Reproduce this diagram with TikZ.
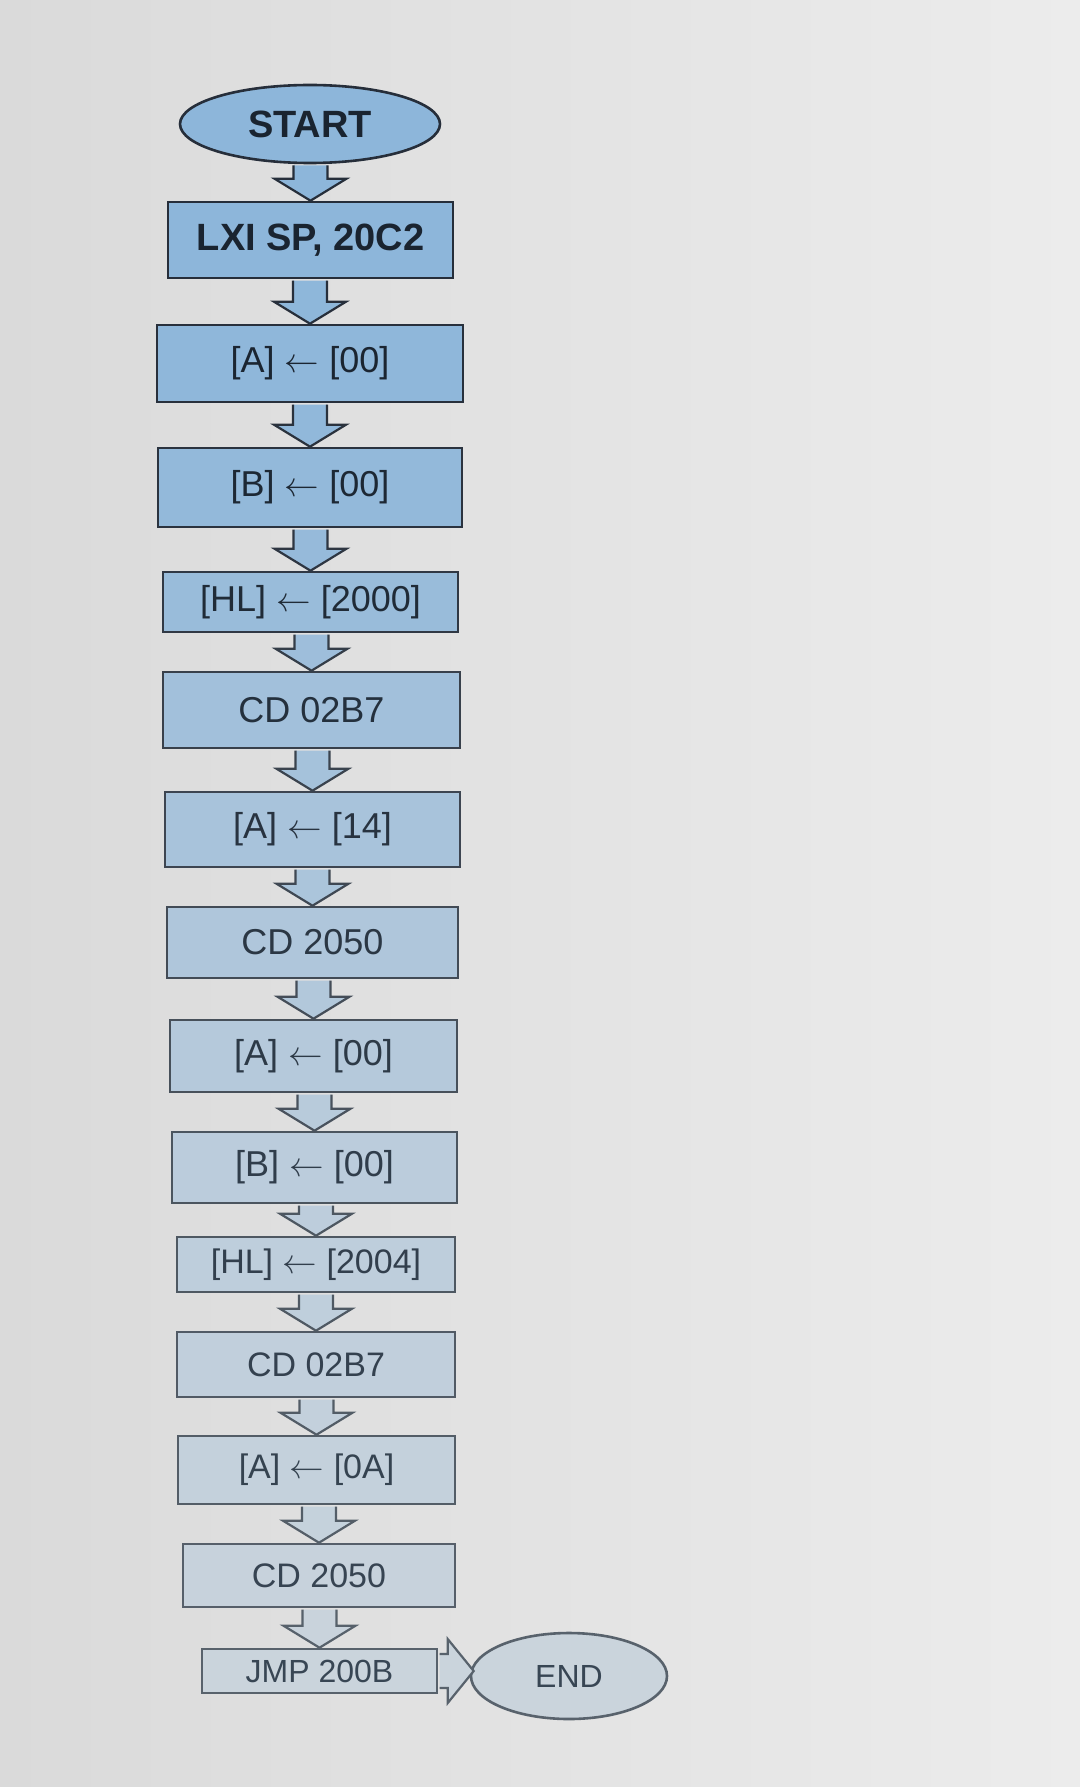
\documentclass[tikz,border=0pt]{standalone}
\usepackage{fontspec}
\setmainfont{Liberation Sans}
\usepackage{tikz}
\usetikzlibrary{shapes.geometric, calc}

\definecolor{boxA}{RGB}{141,182,218}
\definecolor{boxZ}{RGB}{202,212,220}
\definecolor{lineA}{RGB}{38,46,58}
\definecolor{lineZ}{RGB}{88,98,108}
\definecolor{txtA}{RGB}{26,36,48}
\definecolor{txtZ}{RGB}{56,70,84}
\definecolor{bgL}{RGB}{218,218,218}
\definecolor{bgR}{RGB}{236,236,236}

\tikzset{
	stepbox/.style={rectangle, line width=1.3pt, inner sep=0pt, font=\fontsize{18}{21}\selectfont},
	term/.style={ellipse, line width=1.3pt, inner sep=0pt},
	flowarrow/.style={line width=1.1pt, line join=miter},
	tone/.style={fill=boxZ!#1!boxA, draw=lineZ!#1!lineA, text=txtZ!#1!txtA},
}

% block arrow from the bottom of #1 to the top of #2
\newcommand{\flowarrow}[3]{%
	\filldraw[flowarrow, tone=#3] let \p1=(#1.south), \p2=(#2.north) in
		(\x2-8.5pt,\y1-0.6pt) -- (\x2-8.5pt,\y2+11pt) -- (\x2-18pt,\y2+11pt) -- (\x2,\y2)
		-- (\x2+18pt,\y2+11pt) -- (\x2+8.5pt,\y2+11pt) -- (\x2+8.5pt,\y1-0.6pt);
}
% block arrow from the right side of #1 to the left of #2
\newcommand{\sidearrow}[3]{%
	\filldraw[flowarrow, tone=#3] let \p1=(#1.east), \p2=(#2.west) in
		(\x1+0.6pt,\y1+8.5pt) -- (\x2-11pt,\y1+8.5pt) -- (\x2-11pt,\y1+16pt) -- (\x2+2pt,\y1)
		-- (\x2-11pt,\y1-16pt) -- (\x2-11pt,\y1-8.5pt) -- (\x1+0.6pt,\y1-8.5pt);
}
\newcommand{\loadarrow}{\ensuremath{\leftarrow}}

\begin{document}
\begin{tikzpicture}[x=0.5pt, y=-0.5pt]
	\shade[left color=bgL, right color=bgR] (0,0) rectangle (1080,1787);
	%
	\node[term, tone=0, font=\bfseries\fontsize{19}{22}\selectfont, minimum width=130pt, minimum height=39pt] (start) at (310,124) {START};
	\node[stepbox, tone=0, font=\bfseries\fontsize{19}{22}\selectfont, minimum width=142.5pt, minimum height=38pt] (lxi) at (310.5,240) {LXI SP, 20C2};
	\node[stepbox, tone=4, minimum width=153pt, minimum height=38.5pt] (a1) at (310,363.5) {[A] \loadarrow{} [00]};
	\node[stepbox, tone=10, minimum width=152pt, minimum height=39.5pt] (b1) at (310,487.5) {[B] \loadarrow{} [00]};
	\node[stepbox, tone=20, minimum width=147.5pt, minimum height=30pt] (hl1) at (310.5,602) {[HL] \loadarrow{} [2000]};
	\node[stepbox, tone=35, minimum width=148.5pt, minimum height=38pt] (cd1) at (311.5,710) {CD 02B7};
	\node[stepbox, tone=45, minimum width=147.5pt, minimum height=37.5pt] (a2) at (312.5,829.5) {[A] \loadarrow{} [14]};
	\node[stepbox, tone=55, minimum width=145.5pt, minimum height=35.5pt] (cd2) at (312.5,942.5) {CD 2050};
	\node[stepbox, tone=65, minimum width=143.5pt, minimum height=36pt] (a3) at (313.5,1056) {[A] \loadarrow{} [00]};
	\node[stepbox, tone=75, minimum width=142.5pt, minimum height=35.5pt] (b2) at (314.5,1167.5) {[B] \loadarrow{} [00]};
	\node[stepbox, tone=80, font=\fontsize{17}{20}\selectfont, minimum width=139pt, minimum height=27.5pt] (hl2) at (316,1264.5) {[HL] \loadarrow{} [2004]};
	\node[stepbox, tone=85, font=\fontsize{17}{20}\selectfont, minimum width=139pt, minimum height=32.5pt] (cd3) at (316,1364.5) {CD 02B7};
	\node[stepbox, tone=90, font=\fontsize{17}{20}\selectfont, minimum width=138.5pt, minimum height=34pt] (a4) at (316.5,1470) {[A] \loadarrow{} [0A]};
	\node[stepbox, tone=95, font=\fontsize{17}{20}\selectfont, minimum width=136pt, minimum height=31.5pt] (cd4) at (319,1575.5) {CD 2050};
	\node[stepbox, tone=100, font=\fontsize{16}{19}\selectfont, minimum width=117.5pt, minimum height=22pt] (jmp) at (319.5,1671) {JMP 200B};
	\node[term, tone=100, font=\fontsize{16}{19}\selectfont, minimum width=98pt, minimum height=43pt] (end) at (569,1676) {END};
	%
	\foreach \from/\to/\tn in {start/lxi/0, lxi/a1/2, a1/b1/7, b1/hl1/15, hl1/cd1/28, cd1/a2/40, a2/cd2/50, cd2/a3/60, a3/b2/70, b2/hl2/78, hl2/cd3/82, cd3/a4/88, a4/cd4/92, cd4/jmp/98}
		\flowarrow{\from}{\to}{\tn};
	\sidearrow{jmp}{end}{100}
\end{tikzpicture}
\end{document}
